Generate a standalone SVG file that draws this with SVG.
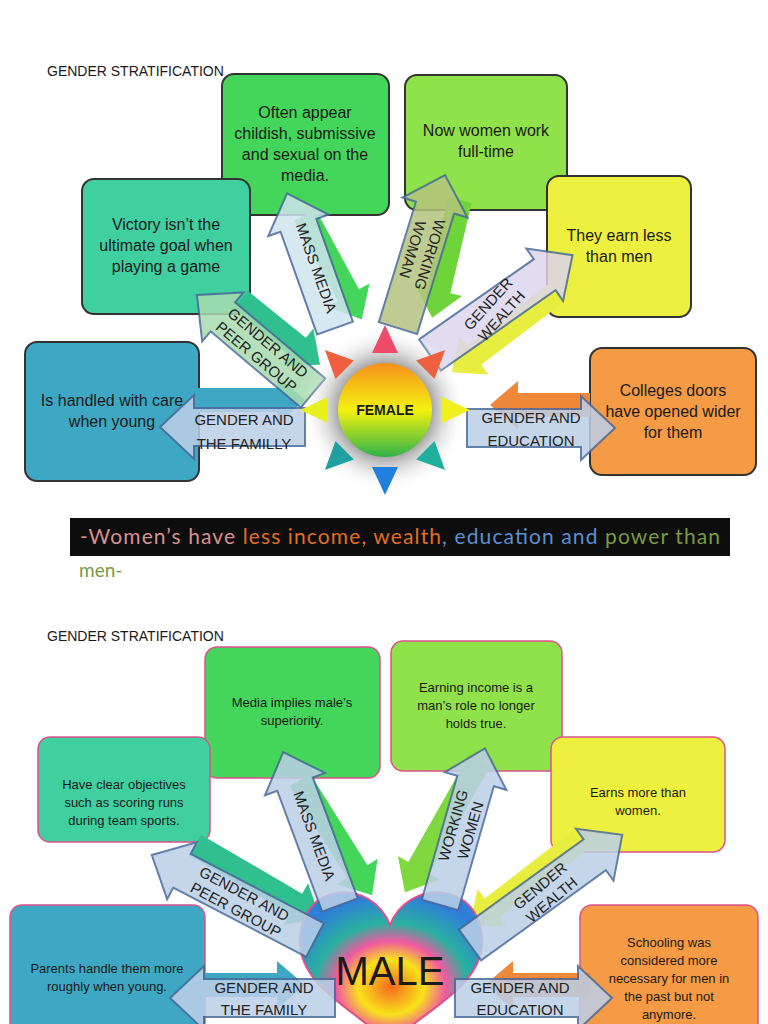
<svg xmlns="http://www.w3.org/2000/svg" width="768" height="1024" viewBox="0 0 768 1024">
<defs>
<style>
.t{font-family:"Liberation Sans",Arial,sans-serif;fill:#1a1a1a}
.bx{stroke:#333;stroke-width:2}
.bx2{stroke:#e0508a;stroke-width:1.5}
.ol{stroke:#4a6a9a;stroke-width:2;opacity:0.85}
.lbl{font-family:"Liberation Sans",Arial,sans-serif;font-size:15px;fill:#222;text-anchor:middle}
.c{text-anchor:middle}
</style>
<linearGradient id="sun" x1="0" y1="0" x2="0" y2="1"><stop offset="0" stop-color="#f7901e"/><stop offset="0.5" stop-color="#f4f20e"/><stop offset="1" stop-color="#2fb34a"/></linearGradient>
<radialGradient id="glow"><stop offset="0.5" stop-color="#888"/><stop offset="1" stop-color="#fff" stop-opacity="0"/></radialGradient>
<radialGradient id="heart" cx="0.5" cy="0.62" r="0.6"><stop offset="0" stop-color="#f46a20"/><stop offset="0.3" stop-color="#f9e21a"/><stop offset="0.5" stop-color="#f05aa0"/><stop offset="0.7" stop-color="#2ab0a0"/><stop offset="1" stop-color="#2f7fd8"/></radialGradient>
</defs>
<text class="t" x="47" y="76" font-size="14">GENDER STRATIFICATION</text>
<g id="box-media1"><rect class="bx" x="222" y="74" width="167" height="141" rx="12" fill="#44d65a"/><text class="t c" font-size="16"><tspan x="305" y="118">Often appear</tspan><tspan x="305" y="139">childish, submissive</tspan><tspan x="305" y="160">and sexual on the</tspan><tspan x="305" y="181">media.</tspan></text></g>
<g id="box-work1"><rect class="bx" x="405" y="75" width="162" height="135" rx="12" fill="#8fe24a"/><text class="t c" font-size="16"><tspan x="486" y="136">Now women work</tspan><tspan x="486" y="157">full-time</tspan></text></g>
<g id="box-peer1"><rect class="bx" x="82" y="179" width="168" height="135" rx="12" fill="#40d0a0"/><text class="t c" font-size="16"><tspan x="166" y="230">Victory isn’t the</tspan><tspan x="166" y="251">ultimate goal when</tspan><tspan x="166" y="272">playing a game</tspan></text></g>
<g id="box-wealth1"><rect class="bx" x="547" y="176" width="144" height="141" rx="12" fill="#eef040"/><text class="t c" font-size="16"><tspan x="619" y="241">They earn less</tspan><tspan x="619" y="262">than men</tspan></text></g>
<g id="box-family1"><rect class="bx" x="25" y="342" width="174" height="139" rx="12" fill="#3ea8c4"/><text class="t c" font-size="16"><tspan x="112" y="406">Is handled with care</tspan><tspan x="112" y="427">when young</tspan></text></g>
<g id="box-edu1"><rect class="bx" x="590" y="348" width="166" height="127" rx="12" fill="#f59a45"/><text class="t c" font-size="16"><tspan x="673" y="396">Colleges doors</tspan><tspan x="673" y="417">have opened wider</tspan><tspan x="673" y="438">for them</tspan></text></g>
<g id="connectors1">
<path transform="translate(305,215) rotate(61.5)" d="M0,-12 H91 V-24 L119,0 L91,24 V12 H0 Z" fill="#44d65a"/>
<path transform="translate(460,200) rotate(103.3)" d="M0,-12 H93 V-24 L121,0 L93,24 V12 H0 Z" fill="#6fd43a"/>
<path transform="translate(560,290) rotate(142.8)" d="M0,-12 H108 V-24 L136,0 L108,24 V12 H0 Z" fill="#e8ee40"/>
<path transform="translate(240,300) rotate(39)" d="M0,-12 H75 V-24 L103,0 L75,24 V12 H0 Z" fill="#30c090"/>
<path transform="translate(195,400) rotate(0)" d="M0,-12 H82 V-24 L110,0 L82,24 V12 H0 Z" fill="#3ea8c4"/>
<path transform="translate(590,405) rotate(180)" d="M0,-12 H72 V-24 L100,0 L72,24 V12 H0 Z" fill="#f0883a"/>
<path class="ol" transform="translate(335,328) rotate(-109.6)" d="M0,-19 H109 V-32 L143,0 L109,32 V19 H0 Z" fill="#cfe4ee"/>
<path class="ol" transform="translate(398,328) rotate(-72.9)" d="M0,-20 H126 V-34 L160,0 L126,34 V20 H0 Z" fill="#b4c47e"/>
<path class="ol" transform="translate(430,355) rotate(-35)" d="M0,-19 H140 V-32 L174,0 L140,32 V19 H0 Z" fill="#ddd6ee"/>
<path class="ol" transform="translate(313,393) rotate(-139.8)" d="M0,-19 H118 V-32 L152,0 L118,32 V19 H0 Z" fill="#a8dcb0"/>
<path class="ol" transform="translate(305,427) rotate(180)" d="M0,-19 H111 V-32 L145,0 L111,32 V19 H0 Z" fill="#bcd0e8"/>
<path class="ol" transform="translate(467,428)" d="M0,-19 H114 V-32 L148,0 L114,32 V19 H0 Z" fill="#bcd0e8"/>
</g>
<g id="female">
<circle cx="385" cy="410" r="82" fill="url(#glow)"/>
<g transform="translate(385,410)">
<polygon points="-13,-57 13,-57 0,-85" fill="#f04a6a"/>
<polygon points="-13,-57 13,-57 0,-85" fill="#f06040" transform="rotate(45)"/>
<polygon points="-13,-57 13,-57 0,-85" fill="#f0f020" transform="rotate(90)"/>
<polygon points="-13,-57 13,-57 0,-85" fill="#20b0a0" transform="rotate(135)"/>
<polygon points="-13,-57 13,-57 0,-85" fill="#2080e0" transform="rotate(180)"/>
<polygon points="-13,-57 13,-57 0,-85" fill="#20a0a0" transform="rotate(225)"/>
<polygon points="-13,-57 13,-57 0,-85" fill="#e8f020" transform="rotate(270)"/>
<polygon points="-13,-57 13,-57 0,-85" fill="#f06040" transform="rotate(315)"/>
</g>
<circle cx="385" cy="410" r="47" fill="url(#sun)"/>
<text class="t c" x="385" y="415" font-size="14" font-weight="bold">FEMALE</text>
</g>
<g id="labels1">
<text class="lbl" transform="translate(316,268) rotate(70.4)" y="5">MASS MEDIA</text>
<text class="lbl" transform="translate(421,252) rotate(107)"><tspan x="0" y="-4">WORKING</tspan><tspan x="0" y="14">WOMAN</tspan></text>
<text class="lbl" transform="translate(495,310) rotate(-48)"><tspan x="0" y="-4">GENDER</tspan><tspan x="0" y="14">WEALTH</tspan></text>
<text class="lbl" transform="translate(262,350) rotate(40)"><tspan x="0" y="-4">GENDER AND</tspan><tspan x="0" y="14">PEER GROUP</tspan></text>
<text class="lbl"><tspan x="244" y="425">GENDER AND</tspan><tspan x="244" y="449">THE FAMILLY</tspan></text>
<text class="lbl"><tspan x="531" y="423">GENDER AND</tspan><tspan x="531" y="446">EDUCATION</tspan></text>
</g>
<g id="banner">
<rect x="70" y="518" width="660" height="38" fill="#0d0d0d"/>
<text x="80" y="544" font-family="Lato,'Liberation Sans',sans-serif" font-size="21" textLength="640" lengthAdjust="spacing"><tspan fill="#d89090">-Women’s have </tspan><tspan fill="#e07020">less income, wealth</tspan><tspan fill="#5b8fd0">, education and </tspan><tspan fill="#7a9a40">power than</tspan></text>
<text x="79" y="577" font-family="Lato,'Liberation Sans',sans-serif" font-size="19" fill="#7a9a40">men-</text>
</g>
<text class="t" x="47" y="641" font-size="14">GENDER STRATIFICATION</text>
<g id="box-media2"><rect class="bx2" x="205" y="647" width="175" height="131" rx="12" fill="#44d65a"/><text class="t c" font-size="13"><tspan x="292" y="707">Media implies male’s</tspan><tspan x="292" y="725">superiority.</tspan></text></g>
<g id="box-work2"><rect class="bx2" x="391" y="641" width="171" height="130" rx="12" fill="#8fe24a"/><text class="t c" font-size="13"><tspan x="476" y="692">Earning income is a</tspan><tspan x="476" y="710">man’s role no longer</tspan><tspan x="476" y="728">holds true.</tspan></text></g>
<g id="box-peer2"><rect class="bx2" x="38" y="737" width="172" height="105" rx="12" fill="#40d0a0"/><text class="t c" font-size="13"><tspan x="124" y="789">Have clear objectives</tspan><tspan x="124" y="807">such as scoring runs</tspan><tspan x="124" y="825">during team sports.</tspan></text></g>
<g id="box-wealth2"><rect class="bx2" x="551" y="737" width="174" height="115" rx="12" fill="#eef040"/><text class="t c" font-size="13"><tspan x="638" y="797">Earns more than</tspan><tspan x="638" y="815">women.</tspan></text></g>
<g id="box-family2"><rect class="bx2" x="10" y="905" width="195" height="130" rx="12" fill="#3ea8c4"/><text class="t c" font-size="13"><tspan x="107" y="973">Parents handle them more</tspan><tspan x="107" y="991">roughly when young.</tspan></text></g>
<g id="box-edu2"><rect class="bx2" x="580" y="905" width="178" height="130" rx="12" fill="#f59a45"/><text class="t c" font-size="13"><tspan x="669" y="947">Schooling was</tspan><tspan x="669" y="965">considered more</tspan><tspan x="669" y="983">necessary for men in</tspan><tspan x="669" y="1001">the past but not</tspan><tspan x="669" y="1019">anymore.</tspan></text></g>
<g id="connectors2">
<path transform="translate(300,780) rotate(58)" d="M0,-12 H108 V-24 L136,0 L108,24 V12 H0 Z" fill="#44d65a"/>
<path transform="translate(480,760) rotate(119.6)" d="M0,-12 H124 V-24 L152,0 L124,24 V12 H0 Z" fill="#7ed83e"/>
<path transform="translate(580,840) rotate(142.3)" d="M0,-12 H111 V-24 L139,0 L111,24 V12 H0 Z" fill="#e8ee40"/>
<path transform="translate(195,845) rotate(30.3)" d="M0,-12 H117 V-24 L145,0 L117,24 V12 H0 Z" fill="#30c090"/>
<path transform="translate(200,985)" d="M0,-12 H77 V-24 L105,0 L77,24 V12 H0 Z" fill="#3ea8c4"/>
<path transform="translate(590,985) rotate(180)" d="M0,-12 H77 V-24 L105,0 L77,24 V12 H0 Z" fill="#f0883a"/>
</g>
<g id="male">
<path d="M390,925 C372,878 300,880 300,942 C300,988 360,1012 390,1045 C420,1012 482,988 482,942 C482,880 408,878 390,925 Z" fill="url(#heart)" stroke="#e0508a" stroke-width="2"/>
</g>
<g id="connectors2b">
<path class="ol" transform="translate(340,905) rotate(-110.4)" d="M0,-19 H129 V-32 L163,0 L129,32 V19 H0 Z" fill="#bcd0e8"/>
<path class="ol" transform="translate(440,905) rotate(-74)" d="M0,-19 H129 V-32 L163,0 L129,32 V19 H0 Z" fill="#bcd0e8"/>
<path class="ol" transform="translate(470,945) rotate(-35.9)" d="M0,-19 H154 V-32 L188,0 L154,32 V19 H0 Z" fill="#bcd0e8"/>
<path class="ol" transform="translate(315,940) rotate(-152.5)" d="M0,-19 H150 V-32 L184,0 L150,32 V19 H0 Z" fill="#bcd0e8"/>
<path class="ol" transform="translate(335,998) rotate(180)" d="M0,-19 H131 V-32 L165,0 L131,32 V19 H0 Z" fill="#bcd0e8"/>
<path class="ol" transform="translate(455,998)" d="M0,-19 H123 V-32 L157,0 L123,32 V19 H0 Z" fill="#bcd0e8"/>
</g>
<g id="labels2">
<text class="t c" x="390" y="985" font-size="40">MALE</text>
<text class="lbl" transform="translate(314,836) rotate(69.6)" y="5">MASS MEDIA</text>
<text class="lbl" transform="translate(462,828) rotate(-74)"><tspan x="0" y="-4">WORKING</tspan><tspan x="0" y="14">WOMEN</tspan></text>
<text class="lbl" transform="translate(546,893) rotate(-40)"><tspan x="0" y="-4">GENDER</tspan><tspan x="0" y="14">WEALTH</tspan></text>
<text class="lbl" transform="translate(240,902) rotate(28)"><tspan x="0" y="-4">GENDER AND</tspan><tspan x="0" y="14">PEER GROUP</tspan></text>
<text class="lbl"><tspan x="264" y="993">GENDER AND</tspan><tspan x="264" y="1015">THE FAMILY</tspan></text>
<text class="lbl"><tspan x="520" y="993">GENDER AND</tspan><tspan x="520" y="1015">EDUCATION</tspan></text>
</g>
</svg>
